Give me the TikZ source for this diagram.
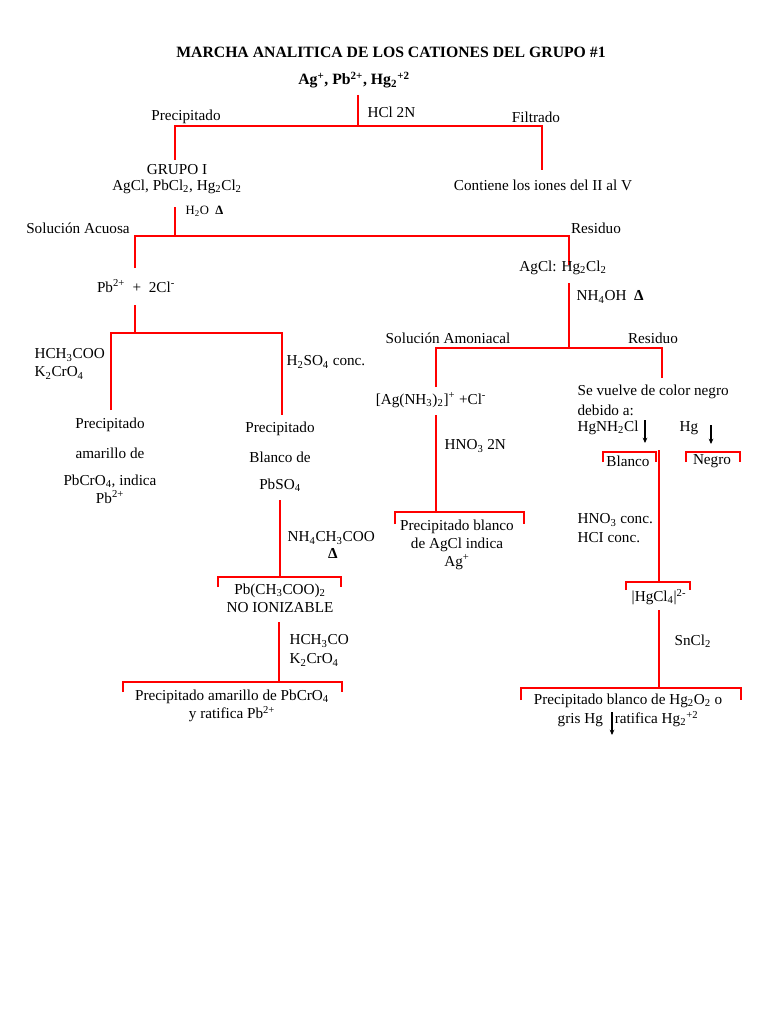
\documentclass[tikz,border=0pt]{standalone}
\usepackage{fontspec}
\setmainfont{Liberation Serif}
\usetikzlibrary{arrows.meta}
\newcommand{\sbs}[1]{\textsubscript{#1}}
\newcommand{\sps}[1]{\textsuperscript{#1}}
\newcommand{\dlt}{\textbf{Δ}}
\begin{document}
\begin{tikzpicture}[x=0.75pt,y=-0.75pt,
  every node/.style={font=\fontsize{11.4}{13}\selectfont, inner sep=1pt},
  ln/.style={red, line width=1.1pt},
  br/.style={red, line width=1.1pt},
  ar/.style={black, line width=0.8pt, -{Stealth[length=4pt,width=3.5pt]}},
  lt/.style={anchor=west}]
\useasboundingbox (0,0) rectangle (768,1024);
% top
\node[font=\fontsize{11.8}{13}\selectfont\bfseries] (title) at (391,52) {MARCHA ANALITICA DE LOS CATIONES DEL GRUPO \#1};
\node[font=\fontsize{11.8}{13}\selectfont\bfseries] (ions) at (354,80) {Ag\sps{+}, Pb\sps{2+}, Hg\sbs{2}\sps{+2}};
\draw[ln] (358,95) -- (358,126);
\draw[ln] (175,160) -- (175,126) -- (542,126) -- (542,170);
\node[lt] (hcl) at (366,112) {HCl 2N};
\node (prec) at (186,117) {Precipitado};
\node (filt) at (536,117) {Filtrado};
\node (g1) at (177,170) {GRUPO I};
\node (g1b) at (177,187) {AgCl, PbCl\sbs{2}, Hg\sbs{2}Cl\sbs{2}};
\node (cont) at (543,185) {Contiene los iones del II al V};
\draw[ln] (175,207) -- (175,236);
\node[lt,font=\fontsize{9.5}{11}\selectfont] (h2o) at (184,211) {H\sbs{2}O\enspace\dlt};
\draw[ln] (135,268) -- (135,236) -- (569,236) -- (569,265);
\node (sa) at (78,228) {Solución Acuosa};
\node (res1) at (596,228) {Residuo};
\node (pb) at (136,286) {Pb\sps{2+}\enspace+\enspace 2Cl\sps{-}};
\node (agcl) at (563,268) {AgCl: Hg\sbs{2}Cl\sbs{2}};
% left branch
\draw[ln] (135,305) -- (135,333);
\draw[ln] (111,410) -- (111,333) -- (282,333) -- (282,415);
\node[lt] (hch) at (33,355) {HCH\sbs{3}COO};
\node[lt] (k2) at (33,373) {K\sbs{2}CrO\sbs{4}};
\node[lt] (h2so4) at (285,362) {H\sbs{2}SO\sbs{4} conc.};
\node (pa1) at (110,425) {Precipitado};
\node (pa2) at (110,453) {amarillo de};
\node (pa3) at (110,481) {PbCrO\sbs{4}, indica};
\node (pa4) at (110,497) {Pb\sps{2+}};
\node (pb1) at (280,429) {Precipitado};
\node (pb2) at (280,457) {Blanco de};
\node (pb3) at (280,485) {PbSO\sbs{4}};
\draw[ln] (280,500) -- (280,577);
\node[lt] (nh4) at (286,538) {NH\sbs{4}CH\sbs{3}COO};
\node (d1) at (333,553) {\dlt};
\draw[br] (218,587) -- (218,577) -- (341,577) -- (341,587);
\node (pbac) at (280,591) {Pb(CH\sbs{3}COO)\sbs{2}};
\node (noi) at (280,608) {NO IONIZABLE};
\draw[ln] (279,622) -- (279,682);
\node[lt] (hch2) at (288,641) {HCH\sbs{3}CO};
\node[lt] (k22) at (288,660) {K\sbs{2}CrO\sbs{4}};
\draw[br] (123,692) -- (123,682) -- (342,682) -- (342,692);
\node (pam) at (232,697) {Precipitado amarillo de PbCrO\sbs{4}};
\node (rat) at (232,714) {y ratifica Pb\sps{2+}};
% right branch
\draw[ln] (569,283) -- (569,348);
\node[lt] (nh4oh) at (575,297) {NH\sbs{4}OH\enspace\dlt};
\draw[ln] (436,387) -- (436,348) -- (662,348) -- (662,378);
\node (sam) at (448,338) {Solución Amoniacal};
\node (res2) at (653,338) {Residuo};
\node (agnh) at (431,400) {[Ag(NH\sbs{3})\sbs{2}]\sps{+} +Cl\sps{-}};
\draw[ln] (436,415) -- (436,512);
\node[lt] (hno) at (443,446) {HNO\sbs{3} 2N};
\draw[br] (395,524) -- (395,512) -- (524,512) -- (524,524);
\node (pbl1) at (457,527) {Precipitado blanco};
\node (pbl2) at (457,545) {de AgCl indica};
\node (pbl3) at (457,562) {Ag\sps{+}};
\node[lt] (sev) at (576,392) {Se vuelve de color negro};
\node[lt] (deb) at (576,410) {debido a:};
\node[lt] (hgnh) at (576,428) {HgNH\sbs{2}Cl};
\coordinate (a1s) at (645,420); \coordinate (a1e) at (645,443);
\draw[ar] (a1s) -- (a1e);
\node[lt] (hg) at (678,428) {Hg};
\coordinate (a2s) at (711,425); \coordinate (a2e) at (711,444);
\draw[ar] (a2s) -- (a2e);
\draw[br] (603,462) -- (603,452) -- (656,452) -- (656,462);
\node (bl) at (628,461) {Blanco};
\draw[br] (686,462) -- (686,452) -- (740,452) -- (740,462);
\node (ng) at (712,461) {Negro};
\draw[ln] (659,450) -- (659,582);
\node[lt] (hno2) at (576,520) {HNO\sbs{3} conc.};
\node[lt] (hci) at (576,538) {HCI conc.};
\draw[br] (626,590) -- (626,582) -- (690,582) -- (690,590);
\node (hgcl) at (659,597) {|HgCl\sbs{4}|\sps{2-}};
\draw[ln] (659,610) -- (659,688);
\node[lt] (sn) at (673,641) {SnCl\sbs{2}};
\draw[br] (521,700) -- (521,688) -- (741,688) -- (741,700);
\node (fin1) at (628,701) {Precipitado blanco de Hg\sbs{2}O\sbs{2} o};
\node (fin2) at (628,719) {gris Hg\hspace{9pt}ratifica Hg\sbs{2}\sps{+2}};
\coordinate (a3s) at (612,712); \coordinate (a3e) at (612,735);
\draw[ar] (a3s) -- (a3e);
\end{tikzpicture}
\end{document}
